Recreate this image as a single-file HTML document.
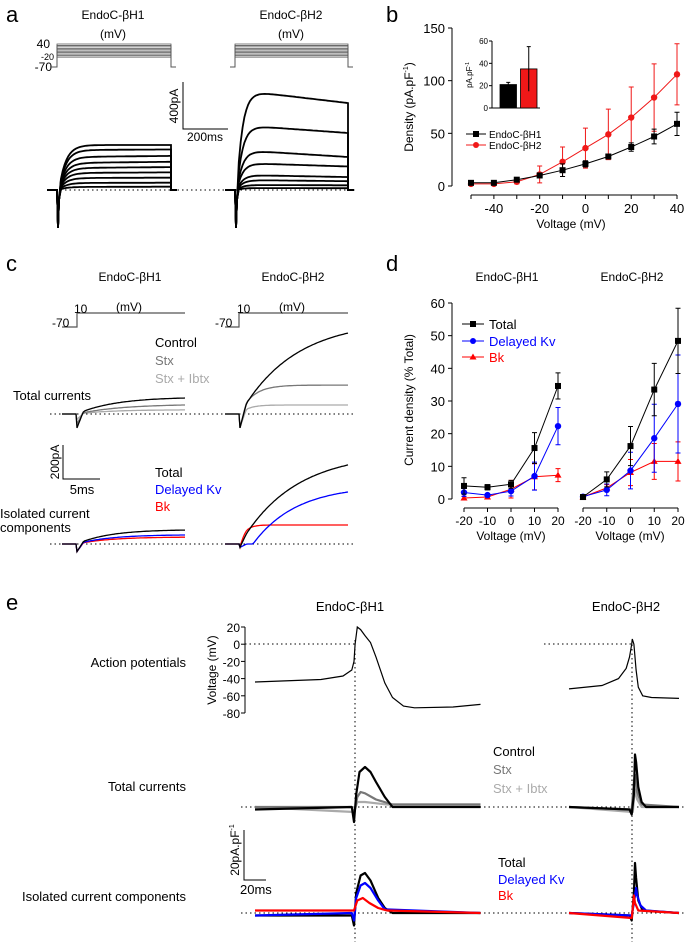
<!DOCTYPE html>
<html><head><meta charset="utf-8">
<style>
html,body{margin:0;padding:0;background:#fff;}
svg{display:block;font-family:"Liberation Sans",Arial,sans-serif;}
text{fill:#000;}
</style></head>
<body>
<svg id="fig" width="685" height="942" viewBox="0 0 685 942" xmlns="http://www.w3.org/2000/svg">
<text x="6" y="22" font-size="22">a</text>
<text x="386" y="22" font-size="22">b</text>
<text x="6" y="271" font-size="22">c</text>
<text x="386" y="271" font-size="22">d</text>
<text x="6" y="610" font-size="22">e</text>

<g font-size="12" text-anchor="middle">
<text x="113" y="19">EndoC-βH1</text>
<text x="113" y="38">(mV)</text>
<text x="291" y="19">EndoC-βH2</text>
<text x="291" y="38">(mV)</text>
</g>
<text x="50" y="48" font-size="12" text-anchor="end">40</text>
<text x="54" y="60" font-size="9" text-anchor="end">-20</text>
<text x="52" y="71" font-size="12" text-anchor="end">-70</text>
<g stroke="#000" stroke-width="1" fill="none">
<path d="M183 82 V129 H228"/>
</g>
<text x="0" y="0" font-size="12" transform="translate(178,106) rotate(-90)" text-anchor="middle">400pA</text>
<text x="205" y="141" font-size="12" text-anchor="middle">200ms</text>
<line x1="47" y1="190" x2="356" y2="190" stroke="#000" stroke-dasharray="1.5,3"/>
<g id="gA"></g>

<g id="gB"></g>
<text x="0" y="0" font-size="12" transform="translate(413,107) rotate(-90)" text-anchor="middle">Density (pA.pF<tspan font-size="7" dy="-5">-1</tspan><tspan dy="5">)</tspan></text>
<text x="571" y="228" font-size="12" text-anchor="middle">Voltage (mV)</text>
<text x="0" y="0" font-size="8" transform="translate(472,75) rotate(-90)" text-anchor="middle">pA.pF<tspan font-size="5" dy="-3">-1</tspan></text>

<g font-size="12" text-anchor="middle">
<text x="130" y="281">EndoC-βH1</text>
<text x="293" y="281">EndoC-βH2</text>
</g>
<g fill="none" stroke="#555" stroke-width="1.2">
<path d="M62 327 H77 V313 H185"/>
<path d="M225 327 H239 V313 H348"/>
</g>
<g font-size="12">
<text x="74" y="313">10</text>
<text x="116" y="311">(mV)</text>
<text x="52" y="327">-70</text>
<text x="237" y="313">10</text>
<text x="279" y="311">(mV)</text>
<text x="215" y="327">-70</text>
</g>
<g font-size="13">
<text x="155" y="347">Control</text>
<text x="155" y="365" style="fill:#777">Stx</text>
<text x="155" y="383" style="fill:#aaa">Stx + Ibtx</text>
<text x="13" y="400">Total currents</text>
<text x="155" y="477">Total</text>
<text x="155" y="494" style="fill:#0000ff">Delayed Kv</text>
<text x="155" y="511" style="fill:#ff0000">Bk</text>
<text x="0" y="518">Isolated current</text>
<text x="0" y="532">components</text>
<text x="82" y="494" text-anchor="middle">5ms</text>
</g>
<path d="M63 445 V479 H100" stroke="#000" fill="none"/>
<text x="0" y="0" font-size="12" transform="translate(59,462) rotate(-90)" text-anchor="middle">200pA</text>
<line x1="50" y1="414" x2="356" y2="414" stroke="#000" stroke-dasharray="1.5,3"/>
<line x1="50" y1="544" x2="356" y2="544" stroke="#000" stroke-dasharray="1.5,3"/>
<g id="gC"></g>

<g font-size="12" text-anchor="middle">
<text x="507" y="281">EndoC-βH1</text>
<text x="632" y="281">EndoC-βH2</text>
<text x="511" y="540">Voltage (mV)</text>
<text x="630" y="540">Voltage (mV)</text>
</g>
<text x="0" y="0" font-size="12" transform="translate(413,400) rotate(-90)" text-anchor="middle">Current density (% Total)</text>
<g id="gD"></g>

<g font-size="13">
<text x="350" y="611" text-anchor="middle">EndoC-βH1</text>
<text x="626" y="611" text-anchor="middle">EndoC-βH2</text>
<text x="186" y="667" text-anchor="end">Action potentials</text>
<text x="186" y="791" text-anchor="end">Total currents</text>
<text x="186" y="901" text-anchor="end">Isolated current components</text>
<text x="493" y="756">Control</text>
<text x="493" y="774" style="fill:#777">Stx</text>
<text x="493" y="793" style="fill:#aaa">Stx + Ibtx</text>
<text x="498" y="867">Total</text>
<text x="498" y="884" style="fill:#0000ff">Delayed Kv</text>
<text x="498" y="900" style="fill:#ff0000">Bk</text>
<text x="240" y="894">20ms</text>
</g>
<text x="0" y="0" font-size="12" transform="translate(239,850) rotate(-90)" text-anchor="middle">20pA.pF<tspan font-size="7" dy="-5">-1</tspan></text>
<path d="M244 830 V880 H266" stroke="#000" fill="none"/>
<text x="0" y="0" font-size="12" transform="translate(216,670) rotate(-90)" text-anchor="middle">Voltage (mV)</text>
<g stroke="#000" stroke-dasharray="1.5,3">
<line x1="245" y1="644" x2="355" y2="644"/>
<line x1="544" y1="644" x2="631" y2="644"/>
<line x1="355" y1="640" x2="355" y2="942"/>
<line x1="632" y1="640" x2="632" y2="942"/>
<line x1="241" y1="807" x2="685" y2="807"/>
<line x1="241" y1="913" x2="685" y2="913"/>
</g>
<g id="gE"></g>
</svg>
<script>
const aH1Peak = [383,340,281,230,187,145,102,60,26];
const aH1End  = [383,345,290,240,195,150,105,62,28];
const aH2Peak = [851,553,340,230,128,85,43,17];
const aH2End  = [740,485,281,200,110,75,40,15];
const bVolt = [-50,-40,-30,-20,-10,0,10,20,30,40];
const bH1 = [3,3,6,10,15,21,28,37,47,59];
const bH1Err = [0.5,0.5,1,2,6,3,2,4,7,11];
const bH2 = [2,2,4,11,23,36,49,65,84,106];
const bH2Err = [1,1,2,8,14,19,24,29,32,29];
const bInsetVals = [21,35];
const bInsetErr = [2,20];
const bYTicks = [0,50,100,150];
const bXTicks = [-40,-20,0,20,40];
const bInsetTicks = [0,20,40,60];
const cTotH1 = [94,53,24];
const cTotH2 = [476,170,53];
const cIsoH1 = [82,53,40];
const cIsoH2 = [465,306,112];
const dVolt = [-20,-10,0,10,20];
const dH1Total = [4,3.6,4.5,15.6,34.6];
const dH1TotalErr = [2.5,0.8,1.2,4.7,4];
const dH1Kv = [2,1.2,2.4,7,22.3];
const dH1KvErr = [1.2,0.5,1.5,4.3,5.7];
const dH1Bk = [0.3,0.6,3,6.8,7.3];
const dH1BkErr = [0.5,0.5,2.7,4,2];
const dH2Total = [0.6,6,16.2,33.5,48.4];
const dH2TotalErr = [0.5,2.3,6,8,10];
const dH2Kv = [0.7,2.8,8.7,18.6,29.1];
const dH2KvErr = [0.5,1.8,5.6,10.4,15];
const dH2Bk = [0.6,3.4,8.1,11.5,11.5];
const dH2BkErr = [0.3,1,4,5.5,6];
const dYTicks = [0,10,20,30,40,50,60];
const eApH1 = [[0,-44],[60,-41],[80,-37],[88,-30],[90,-20],[91,0],[93,20],[96,17],[100,10],[105,2],[110,-15],[118,-45],[125,-62],[135,-72],[145,-74],[180,-73],[205,-70]];
const eApH2 = [[0,-52],[30,-48],[45,-40],[52,-28],[55,-15],[57,0],[57.5,6],[59,0],[61,-30],[63,-50],[67,-60],[75,-62],[100,-63]];
const eApTicks = [20,0,-20,-40,-60,-80];
const eTotH1Ctrl = [[0,-1],[88,0],[90,-6],[92,5],[95,14],[100,16],[105,14],[110,10],[118,4],[125,0],[205,0]];
const eTotH1Stx = [[0,0],[88,0],[90,-3],[93,4],[96,6],[100,5.5],[110,3],[125,1],[205,1]];
const eTotH1Ib = [[0,0],[90,-2],[93,2],[100,2],[120,1],[205,1]];
const eTotH2Ctrl = [[0,0],[55,-1],[57,-3],[59,5],[60,21],[61,18],[63,8],[66,2],[70,0],[100,0]];
const eTotH2Stx = [[0,0],[57,-1],[59,10],[60,13],[62,6],[66,1],[100,0]];
const eTotH2Ib = [[0,0],[58,-2],[59,3],[60,7],[62,3],[66,0],[100,0]];
const eIsoH1Tot = [[0,-1],[88,-1],[90,-5],[92,8],[96,15],[100,16],[105,13],[112,6],[118,2],[125,0],[205,0]];
const eIsoH1Kv = [[0,-1],[88,0],[90,-3],[92,6],[96,11],[100,12],[105,10],[112,5],[118,1.5],[205,0]];
const eIsoH1Bk = [[0,1],[88,1],[90,1],[93,5],[98,6],[104,4],[112,2],[120,1],[205,0]];
const eIsoH2Tot = [[0,0],[55,-1],[57,-3],[59,8],[60,20],[61,14],[63,5],[67,1],[100,0]];
const eIsoH2Kv = [[0,0],[57,-1],[59,4],[61,10],[62,7],[65,3],[70,1],[100,0]];
const eIsoH2Bk = [[0,0],[57,-2],[58,2],[59,7],[60,4],[63,1],[100,0]];

const NS = "http://www.w3.org/2000/svg";
function mk(tag, attrs, parent){
  const e = document.createElementNS(NS, tag);
  for (const k in attrs) e.setAttribute(k, attrs[k]);
  parent.appendChild(e);
  return e;
}
function pth(pts){ return pts.map((p,i)=>(i?'L':'M')+p[0].toFixed(1)+' '+p[1].toFixed(1)).join(' '); }

const gA = document.getElementById('gA');
for (let k=0;k<10;k++){
  const y = 44 + k*1.45;
  const p1 = mk('path',{d:`M50 67 H57 V${y} H171 V67 H176`,fill:'none',stroke:'#555','stroke-width':0.8},gA);
  
  
  const p2 = mk('path',{d:`M230 67 H235 V${y} H348 V67 H353`,fill:'none',stroke:'#555','stroke-width':0.8},gA);
  
  
}
const aScale = pa => 190 - pa*47/400;
function aTrace(x0,x1,peak,end,tau){
  const pts=[[x0-10,190],[x0,190],[x0+1,228],[x0+2,200]];
  for(let i=1;i<=60;i++){
    const t=i/60;
    const v = peak*(1-Math.exp(-t/tau)) + (end-peak)*t;
    pts.push([x0+2+t*(x1-x0-2), aScale(v)]);
  }
  pts.push([x1,190],[x1+6,190]);
  return pth(pts);
}
aH1Peak.forEach((v,i)=>{
  const p = mk('path',{d:aTrace(57,171,v,aH1End[i],0.06),fill:'none',stroke:'#000','stroke-width':1.8},gA);
  
  
});
aH2Peak.forEach((v,i)=>{
  const p = mk('path',{d:aTrace(235,348,v,aH2End[i],0.05),fill:'none',stroke:'#000','stroke-width':1.8},gA);
  
  
});

const gB = document.getElementById('gB');
const bx = v => 471 + (v+50)*206/90;
const by = d => 186 - d*158/150;
let ax = mk('path',{d:`M452 ${by(150)} V${by(0)}`,stroke:'#000',fill:'none'},gB);


bYTicks.forEach(t=>{
  const l=mk('line',{x1:448,x2:452,y1:by(t),y2:by(t),stroke:'#000'},gB);
  
  
  const tx=mk('text',{x:445,y:by(t)+5,'font-size':13,'text-anchor':'end'},gB); tx.textContent=t;
  
  
});
ax = mk('path',{d:`M${bx(-50)} 195 H${bx(40)}`,stroke:'#000',fill:'none'},gB);


bVolt.forEach(v=>{
  const l=mk('line',{x1:bx(v),x2:bx(v),y1:195,y2:199,stroke:'#000'},gB);
  
  
});
bXTicks.forEach(v=>{
  const tx=mk('text',{x:bx(v),y:213,'font-size':13,'text-anchor':'middle'},gB); tx.textContent=v;
  
  
});
function series(g, xs, ys, errs, xf, yf, color, shape, name){
  const pl=mk('path',{d:pth(xs.map((x,i)=>[xf(x),yf(ys[i])])),fill:'none',stroke:color,'stroke-width':1},g);
  
  
  xs.forEach((x,i)=>{
    const X=xf(x), Y1=yf(ys[i]+errs[i]), Y2=yf(Math.max(ys[i]-errs[i],0));
    const e=mk('path',{d:`M${X} ${Y1} V${Y2} M${X-2.5} ${Y1} H${X+2.5} M${X-2.5} ${Y2} H${X+2.5}`,stroke:color,fill:'none','stroke-width':1},g);
    
    
    let m;
    const Y=yf(ys[i]);
    if(shape==='sq') m=mk('rect',{x:X-3,y:Y-3,width:6,height:6,fill:color},g);
    else if(shape==='tri') m=mk('path',{d:`M${X} ${Y-3.5} L${X+3.5} ${Y+2.5} L${X-3.5} ${Y+2.5}Z`,fill:color},g);
    else m=mk('circle',{cx:X,cy:Y,r:3.2,fill:color},g);
    
    
  });
}
series(gB,bVolt,bH2,bH2Err,bx,by,'#f01818','c','b-h2');
series(gB,bVolt,bH1,bH1Err,bx,by,'#000','sq','b-h1');
let lg=mk('path',{d:'M466 134 H486',stroke:'#000'},gB);  
lg=mk('rect',{x:473,y:131,width:6,height:6,fill:'#000'},gB);  
lg=mk('text',{x:489,y:138,'font-size':10},gB); lg.textContent='EndoC-βH1';  
lg=mk('path',{d:'M466 145 H486',stroke:'#f01818'},gB);  
lg=mk('circle',{cx:476,cy:145,r:3,fill:'#f01818'},gB);  
lg=mk('text',{x:489,y:149,'font-size':10},gB); lg.textContent='EndoC-βH2';  
const iy = v => 108 - v*67/60;
ax=mk('path',{d:`M492 ${iy(60)} V108 H540`,stroke:'#000',fill:'none'},gB);
 
bInsetTicks.forEach(t=>{
  const l=mk('line',{x1:489,x2:492,y1:iy(t),y2:iy(t),stroke:'#000'},gB);
   
  const tx=mk('text',{x:488,y:iy(t)+3,'font-size':8,'text-anchor':'end'},gB); tx.textContent=t;
   
});
const insetCols=['#000','#f01818'];
bInsetVals.forEach((v,i)=>{
  const x0=500+i*20.5;
  const r=mk('rect',{x:x0,y:iy(v),width:16.5,height:108-iy(v),fill:insetCols[i],stroke:'#000','stroke-width':0.8},gB);
   
  const cx=x0+8.25;
  const e=mk('path',{d:`M${cx} ${iy(v+bInsetErr[i])} V${iy(v-bInsetErr[i])} M${cx-2} ${iy(v+bInsetErr[i])} H${cx+2}`,stroke:'#000',fill:'none'},gB);
   
});

const gC = document.getElementById('gC');
function cTrace(x0,x1,base,dip,end,tau,delay,scale){
  const pts=[[x0,base],[x0+14,base],[x0+15,base+dip*scale]];
  for(let i=1;i<=70;i++){
    const t=i/70;
    const tt=Math.max(0,t-delay);
    const v = end*(1-Math.exp(-tt/tau))/(1-Math.exp(-(1-delay)/tau));
    pts.push([x0+15+t*(x1-x0-15), base - v*scale + (t<0.06? dip*scale*(1-t/0.06):0)]);
  }
  return pth(pts);
}
const cs = 34/200;
const cCols=['#000','#777','#aaa'];
const cIsoCols=['#000','#0000ff','#ff0000'];
const cTau=[0.35,0.4,0.3], cTau2=[0.5,0.12,0.08];
[2,1,0].forEach(i=>{
  let p=mk('path',{d:cTrace(62,185,414,82-i*25,cTotH1[i],cTau[i],0,cs),fill:'none',stroke:cCols[i],'stroke-width':1.3},gC);
   
  p=mk('path',{d:cTrace(225,348,414,82,cTotH2[i],cTau2[i],0,cs),fill:'none',stroke:cCols[i],'stroke-width':1.3},gC);
   
});
const cIsoTau=[0.5,0.4,0.05], cIsoDelay=[0,0.12,0];
[2,1,0].forEach(i=>{
  let p=mk('path',{d:cTrace(62,185,544,45,cIsoH1[i],0.3,0,cs),fill:'none',stroke:cIsoCols[i],'stroke-width':1.3},gC);
   
  p=mk('path',{d:cTrace(225,348,544,20,cIsoH2[i],cIsoTau[i],cIsoDelay[i],cs),fill:'none',stroke:cIsoCols[i],'stroke-width':1.3},gC);
   
});

const gD = document.getElementById('gD');
const dy = v => 499 - v*196/60;
const dxL = v => 464 + (v+20)*94/40;
const dxR = v => 583 + (v+20)*95/40;
ax=mk('path',{d:`M452 ${dy(60)} V${dy(0)}`,stroke:'#000',fill:'none'},gD);
 
dYTicks.forEach(t=>{
  const l=mk('line',{x1:448,x2:452,y1:dy(t),y2:dy(t),stroke:'#000'},gD);
   
  const tx=mk('text',{x:445,y:dy(t)+5,'font-size':13,'text-anchor':'end'},gD); tx.textContent=t;
   
});
[dxL,dxR].forEach((f,gi)=>{
  const a=mk('path',{d:`M${f(-20)} 508 H${f(20)}`,stroke:'#000',fill:'none'},gD);
   
  dVolt.forEach(v=>{
    const l=mk('line',{x1:f(v),x2:f(v),y1:508,y2:512,stroke:'#000'},gD);
     
    const tx=mk('text',{x:f(v),y:525,'font-size':12,'text-anchor':'middle'},gD); tx.textContent=v;
     
  });
});
series(gD,dVolt,dH1Bk,dH1BkErr,dxL,dy,'#ff0000','tri','d-h1-bk');
series(gD,dVolt,dH1Kv,dH1KvErr,dxL,dy,'#0000ff','c','d-h1-kv');
series(gD,dVolt,dH1Total,dH1TotalErr,dxL,dy,'#000','sq','d-h1-total');
series(gD,dVolt,dH2Bk,dH2BkErr,dxR,dy,'#ff0000','tri','d-h2-bk');
series(gD,dVolt,dH2Kv,dH2KvErr,dxR,dy,'#0000ff','c','d-h2-kv');
series(gD,dVolt,dH2Total,dH2TotalErr,dxR,dy,'#000','sq','d-h2-total');
const dLeg=[['Total','#000','sq',324],['Delayed Kv','#0000ff','c',341],['Bk','#ff0000','tri',357]];
dLeg.forEach(L=>{
  let e=mk('path',{d:`M462 ${L[3]} H484`,stroke:L[1]},gD);
   
  if(L[2]==='sq') e=mk('rect',{x:470,y:L[3]-3,width:6,height:6,fill:L[1]},gD);
  else if(L[2]==='c') e=mk('circle',{cx:473,cy:L[3],r:3,fill:L[1]},gD);
  else e=mk('path',{d:`M473 ${L[3]-3.5} L476.5 ${L[3]+2.5} L469.5 ${L[3]+2.5}Z`,fill:L[1]},gD);
   
  e=mk('text',{x:489,y:L[3]+5,'font-size':13,style:'fill:'+L[1]},gD); e.textContent=L[0];
   
});

const gE = document.getElementById('gE');
const eVy = v => 627 + (20 - v)*86/100;
const eX1 = t => 255 + t*1.1;
const eX2 = t => 569 + t*1.1;
ax=mk('path',{d:`M245 ${eVy(20)} V${eVy(-80)}`,stroke:'#000',fill:'none'},gE);
 
eApTicks.forEach(t=>{
  const l=mk('line',{x1:241,x2:245,y1:eVy(t),y2:eVy(t),stroke:'#000'},gE);
   
  const tx=mk('text',{x:240,y:eVy(t)+5,'font-size':12,'text-anchor':'end'},gE); tx.textContent=t;
   
});
let ap=mk('path',{d:pth(eApH1.map(p=>[eX1(p[0]),eVy(p[1])])),fill:'none',stroke:'#000','stroke-width':1.2},gE);
 
ap=mk('path',{d:pth(eApH2.map(p=>[eX2(p[0]),eVy(p[1])])),fill:'none',stroke:'#000','stroke-width':1.2},gE);
 
const eCy = (base,v) => base - v*2.5;
function eTr(arr,xf,base,color,name){
  const p=mk('path',{d:pth(arr.map(q=>[xf(q[0]),eCy(base,q[1])])),fill:'none',stroke:color,'stroke-width':2.2,'stroke-linejoin':'round'},gE);
   
}
eTr(eTotH1Ib,eX1,807,'#aaa','e-total-stx-ibtx-h1');
eTr(eTotH1Stx,eX1,807,'#777','e-total-stx-h1');
eTr(eTotH1Ctrl,eX1,807,'#000','e-total-control-h1');
eTr(eTotH2Ib,eX2,807,'#aaa','e-total-stx-ibtx-h2');
eTr(eTotH2Stx,eX2,807,'#777','e-total-stx-h2');
eTr(eTotH2Ctrl,eX2,807,'#000','e-total-control-h2');
eTr(eIsoH1Tot,eX1,913,'#000','e-isolated-total-h1');
eTr(eIsoH1Kv,eX1,913,'#0000ff','e-isolated-kv-h1');
eTr(eIsoH1Bk,eX1,913,'#ff0000','e-isolated-bk-h1');
eTr(eIsoH2Tot,eX2,913,'#000','e-isolated-total-h2');
eTr(eIsoH2Kv,eX2,913,'#0000ff','e-isolated-kv-h2');
eTr(eIsoH2Bk,eX2,913,'#ff0000','e-isolated-bk-h2');
</script>
</body></html>
